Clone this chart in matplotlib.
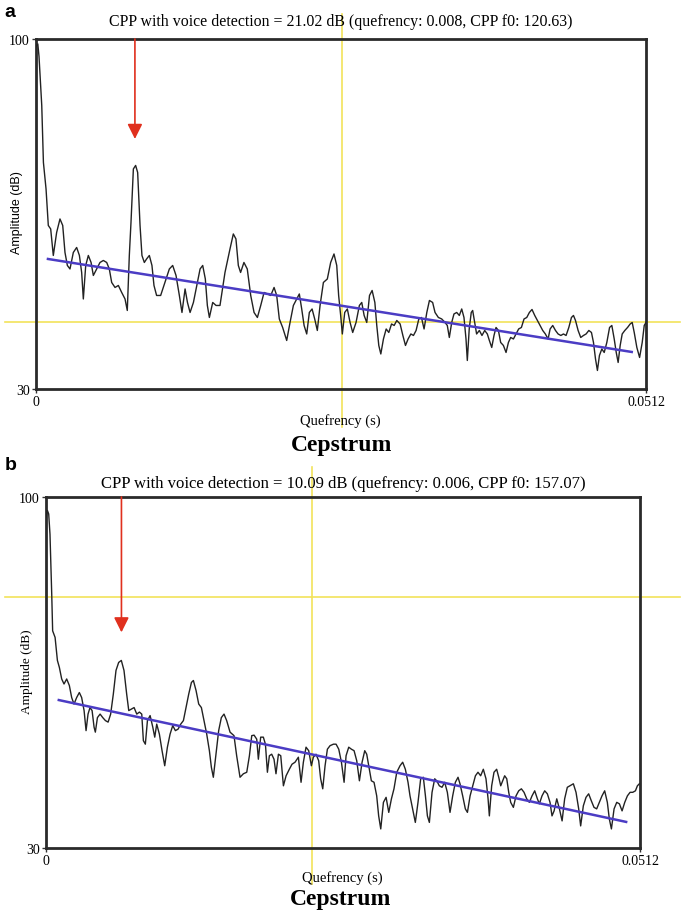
import numpy as np
import matplotlib
matplotlib.use('Agg')
import matplotlib.pyplot as plt

plt.rcParams['font.family'] = ['Liberation Serif', 'DejaVu Serif']

# Panel a: cepstrum (quefrency in ms, amplitude in dB)
quef_a_ms = [0.0, 0.15, 0.25, 0.48, 0.62, 0.84, 1.03, 1.23, 1.45, 1.73, 2.01, 2.24, 2.43, 2.63,
             2.85, 3.13, 3.41, 3.64, 3.83, 3.97, 4.17, 4.39, 4.62, 4.81, 5.09, 5.37, 5.65, 5.93,
             6.15, 6.35, 6.63, 6.91, 7.19, 7.47, 7.66, 7.83, 7.97, 8.17, 8.36, 8.53, 8.73, 8.89,
             9.09, 9.28, 9.51, 9.73, 9.90, 10.12, 10.46, 10.82, 11.19, 11.47, 11.75, 12.03, 12.25,
             12.51, 12.71, 12.93, 13.21, 13.49, 13.77, 13.99, 14.21, 14.38, 14.55, 14.83, 15.11,
             15.44, 15.86, 16.28, 16.56, 16.78, 16.98, 17.17, 17.45, 17.73, 18.02, 18.30, 18.58,
             18.86, 19.14, 19.42, 19.70, 19.98, 20.20, 20.42, 20.70, 21.04, 21.32, 21.60, 21.88,
             22.10, 22.30, 22.50, 22.72, 22.94, 23.17, 23.39, 23.61, 23.84, 24.12, 24.45, 24.73,
             25.01, 25.24, 25.40, 25.57, 25.71, 25.91, 26.13, 26.36, 26.58, 26.86, 27.14, 27.34,
             27.54, 27.76, 27.99, 28.21, 28.44, 28.60, 28.77, 28.94, 29.16, 29.39, 29.61, 29.84,
             30.06, 30.28, 30.56, 30.79, 31.01, 31.23, 31.46, 31.68, 31.90, 32.13, 32.35, 32.57,
             32.80, 33.02, 33.29, 33.49, 33.77, 34.05, 34.33, 34.52, 34.69, 34.89, 35.08, 35.31,
             35.53, 35.73, 35.92, 36.09, 36.20, 36.36, 36.53, 36.65, 36.82, 36.98, 37.21, 37.43,
             37.66, 37.88, 38.05, 38.25, 38.44, 38.61, 38.81, 39.00, 39.23, 39.45, 39.65, 39.84,
             40.07, 40.29, 40.51, 40.74, 40.96, 41.19, 41.41, 41.63, 41.86, 42.08, 42.31, 42.53,
             42.75, 42.98, 43.15, 43.37, 43.60, 43.82, 44.05, 44.27, 44.49, 44.72, 44.94, 45.11,
             45.28, 45.50, 45.72, 45.95, 46.17, 46.40, 46.62, 46.79, 46.96, 47.12, 47.29, 47.49,
             47.69, 47.91, 48.14, 48.33, 48.53, 48.70, 48.86, 49.03, 49.20, 49.42, 49.65, 49.87,
             50.04, 50.21, 50.43, 50.66, 50.88, 51.05, 51.2]
amp_a_db = [98.5, 99.0, 96.5, 86.7, 75.3, 70.0, 62.7, 62.0, 56.7, 61.3, 64.0, 62.7, 57.3, 54.7,
            54.0, 57.3, 58.3, 56.7, 53.3, 48.0, 54.7, 56.7, 55.3, 52.7, 54.0, 55.3, 55.7, 55.3,
            54.0, 51.3, 50.3, 50.7, 49.3, 48.0, 45.7, 56.7, 63.3, 74.0, 74.7, 73.3, 62.7, 56.7,
            55.3, 56.0, 56.7, 54.7, 50.7, 48.7, 48.7, 51.3, 54.0, 54.7, 52.7, 48.7, 45.3,
            50.0, 47.3, 45.3, 47.3, 50.7, 54.0, 54.7, 52.0, 46.7, 44.3, 47.3, 46.7,
            46.7, 53.3, 58.0, 61.0, 60.0, 54.7, 53.3, 55.3, 54.0, 48.7, 45.3, 44.3,
            46.7, 49.3, 49.0, 48.7, 50.3, 48.7, 44.0, 42.3, 39.7, 43.3, 46.7, 48.0,
            49.0, 46.0, 42.7, 41.0, 45.3, 46.0, 44.0, 41.7, 46.7, 51.3, 52.0, 55.3,
            57.0, 54.7, 48.7, 44.7, 41.0, 45.3, 46.0, 43.3, 41.3, 43.3, 46.7, 47.3,
            44.7, 43.3, 48.7, 49.7, 47.3, 42.7, 38.7, 37.0, 40.0, 42.0, 41.3, 43.0,
            42.7, 43.7, 43.0, 40.7, 38.7, 40.0, 41.0, 40.7, 41.7, 44.0, 44.3, 42.0,
            45.3, 47.7, 47.3, 45.3, 44.3, 44.0, 43.3, 42.7, 40.3, 43.3, 45.0, 45.3,
            44.7, 46.0, 44.3, 40.0, 35.7, 42.0, 45.3, 45.7, 43.3, 41.0, 41.7, 40.7,
            41.7, 41.0, 39.7, 38.3, 40.7, 42.3, 41.7, 39.3, 38.7, 37.3, 39.3, 40.3,
            40.0, 41.0, 42.0, 42.3, 44.0, 44.3, 45.3, 45.9, 44.7, 43.7, 42.7, 41.7,
            41.0, 40.0, 42.0, 42.7, 41.7, 41.0, 40.7, 41.0, 40.7, 42.3, 44.3, 44.7,
            43.7, 41.7, 40.3, 40.7, 41.0, 41.7, 41.3, 39.3, 36.0, 33.7, 36.7, 38.0,
            37.3, 39.3, 42.3, 42.7, 40.0, 37.3, 35.3, 38.7, 41.0, 41.7, 42.3, 43.0,
            43.3, 41.3, 38.3, 36.3, 39.3, 42.7, 43.3]

# Panel b: cepstrum (quefrency in ms, amplitude in dB)
quef_b_ms = [0.0, 0.12, 0.23, 0.34, 0.49, 0.57, 0.78, 0.98, 1.15, 1.35, 1.55, 1.78, 2.01, 2.21,
             2.41, 2.64, 2.87, 3.07, 3.28, 3.45, 3.62, 3.79, 3.97, 4.14, 4.25, 4.43, 4.66, 4.89,
             5.12, 5.35, 5.57, 5.80, 6.03, 6.26, 6.49, 6.72, 6.95, 7.13, 7.36, 7.59, 7.82, 8.05,
             8.25, 8.39, 8.56, 8.74, 8.97, 9.20, 9.37, 9.54, 9.77, 10.00, 10.23, 10.46, 10.69,
             10.92, 11.15, 11.38, 11.61, 11.84, 12.07, 12.30, 12.53, 12.70, 12.93, 13.16, 13.39,
             13.62, 13.85, 14.08, 14.25, 14.42, 14.65, 14.88, 15.11, 15.34, 15.57,
             15.86, 16.20, 16.43, 16.72, 17.01, 17.30, 17.53, 17.73, 17.93, 18.16, 18.30, 18.50,
             18.73, 18.91, 19.08, 19.25, 19.45, 19.65, 19.82, 20.03, 20.23, 20.46, 20.69, 20.97,
             21.20, 21.46, 21.75, 21.98, 22.18, 22.41, 22.64, 22.87, 23.04, 23.27, 23.50, 23.67,
             23.85, 24.05, 24.25, 24.48, 24.77, 25.00, 25.23, 25.46, 25.69, 25.86, 26.09, 26.32,
             26.55, 26.78, 27.01, 27.24, 27.47, 27.64, 27.81, 28.04, 28.27, 28.50, 28.67, 28.85,
             29.08, 29.31, 29.54, 29.77, 29.99, 30.23, 30.51, 30.74, 30.97, 31.20, 31.37, 31.60,
             31.83, 32.06, 32.29, 32.52, 32.70, 32.87, 33.04, 33.27, 33.50, 33.67, 33.90, 34.13,
             34.36, 34.59, 34.82, 35.05, 35.28, 35.51, 35.68, 35.91, 36.14, 36.32, 36.55, 36.78,
             37.01, 37.23, 37.46, 37.69, 37.92, 38.10, 38.21, 38.41, 38.61, 38.84, 39.02, 39.19,
             39.36, 39.53, 39.71, 39.88, 40.05, 40.28, 40.51, 40.74, 40.97, 41.20, 41.43, 41.66,
             41.89, 42.12, 42.35, 42.52, 42.75, 42.98, 43.21, 43.44, 43.61, 43.79, 44.02, 44.25,
             44.48, 44.70, 44.93, 45.16, 45.45, 45.68, 45.91, 46.08, 46.31, 46.54, 46.77, 47.00,
             47.23, 47.46, 47.69, 47.92, 48.15, 48.38, 48.55, 48.73, 48.96, 49.19, 49.42, 49.65,
             49.88, 50.11, 50.34, 50.57, 50.80, 50.97, 51.14]
amp_b_db = [96.0, 97.3, 96.6, 92.6, 80.7, 73.3, 72.0, 67.4, 66.0, 63.7, 62.7, 63.7, 62.4, 60.0,
            58.7, 60.0, 61.0, 60.0, 57.4, 53.4, 56.7, 58.0, 57.4, 54.1, 53.1, 56.0, 56.7, 56.0,
            55.4, 55.1, 56.7, 60.7, 65.4, 67.0, 67.4, 65.4, 60.7, 57.4, 57.7, 58.0, 56.7, 57.1,
            56.7, 51.4, 50.7, 55.4, 56.4, 54.1, 52.1, 54.7, 52.7, 49.4, 46.4, 50.1, 52.7,
            54.4, 53.4, 53.7, 54.7, 55.4, 58.0, 60.7, 63.0, 63.4, 61.4, 58.7, 58.0,
            55.4, 52.7, 49.4, 46.1, 44.1, 48.7, 53.4, 56.0, 56.7, 55.4,
            53.1, 52.4, 48.4, 44.1, 44.8, 45.1, 48.4, 52.4, 52.5, 51.7, 47.7, 52.1,
            52.1, 50.7, 45.1, 48.4, 48.7, 47.7, 44.8, 48.7, 48.4, 42.4, 44.4, 45.7,
            46.7, 47.1, 48.1, 43.1, 47.1, 50.1, 49.4, 46.4, 48.1, 48.7, 47.4, 43.8,
            41.8, 46.4, 49.7, 50.4, 50.7, 50.7, 49.7, 47.1, 43.1, 48.4, 50.1, 49.7,
            49.4, 47.4, 43.4, 47.1, 49.4, 48.7, 46.4, 43.4, 43.1, 40.4, 36.4, 33.8,
            39.1, 40.1, 37.1, 39.8, 41.8, 45.1, 46.4, 47.1, 45.7, 43.1, 40.4, 37.8,
            35.1, 39.1, 43.8, 44.1, 40.4, 36.4, 35.1, 41.1, 43.8, 43.4, 42.4, 42.1,
            43.1, 41.1, 37.1, 40.4, 43.1, 44.1, 42.8, 40.4, 37.8, 37.1, 40.4, 42.4,
            44.4, 45.1, 44.4, 45.7, 43.8, 39.8, 36.4, 42.4, 45.1, 45.7, 44.1, 42.4,
            43.4, 44.4, 43.8, 41.1, 39.1, 38.1, 40.4, 41.4, 41.8, 41.1, 39.8, 39.1,
            40.4, 41.4, 39.8, 38.8, 40.4, 41.4, 40.8, 39.1, 36.4, 37.4, 39.8, 37.8,
            35.4, 39.8, 42.1, 42.4, 42.8, 41.1, 37.8, 34.4, 38.4, 40.1, 40.8, 39.4,
            38.1, 37.8, 39.1, 40.4, 41.4, 39.1, 35.8, 33.8, 37.8, 39.1, 38.8, 37.4,
            39.1, 40.4, 41.1, 41.1, 41.4, 42.4, 42.8]

# Regression (trend) lines
trend_a_q = [0.0010, 0.0500]
trend_a_db = [56.0, 37.4]
trend_b_q = [0.0011, 0.0500]
trend_b_db = [59.5, 35.2]

# Cursor (yellow) positions and CPP peak arrows
cursor_a = (0.02568, 43.4)
cursor_b = (0.02293, 80.0)
peak_a = (0.0083, 80.0)
peak_b = (0.0065, 73.0)

titles = ['CPP with voice detection = 21.02 dB (quefrency: 0.008, CPP f0: 120.63)',
          'CPP with voice detection = 10.09 dB (quefrency: 0.006, CPP f0: 157.07)']

fig = plt.figure(figsize=(6.85, 9.12), dpi=100)
ax_a = fig.add_axes([0.0526, 0.5724, 0.8905, 0.3838])
ax_b = fig.add_axes([0.0672, 0.0691, 0.8672, 0.3849])

panels = [
    (ax_a, quef_a_ms, amp_a_db, trend_a_q, trend_a_db, cursor_a, peak_a,
     (-0.109, 1.071), (-0.051, 1.056)),
    (ax_b, quef_b_ms, amp_b_db, trend_b_q, trend_b_db, cursor_b, peak_b,
     (-0.103, 1.085), (-0.069, 1.067)),
]

yellow = '#f2e35a'
for ax, q_ms, amp, tq, tdb, cur, peak, vspan, hspan in panels:
    q = np.array(q_ms) / 1000.0
    ax.plot(q, amp, color='#222222', lw=1.0, zorder=3)
    ax.plot(tq, tdb, color='#4b3cc4', lw=1.8, zorder=4)
    ax.axvline(cur[0], ymin=vspan[0], ymax=vspan[1], color=yellow, lw=1.2,
               clip_on=False, zorder=2)
    ax.axhline(cur[1], xmin=hspan[0], xmax=hspan[1], color=yellow, lw=1.2,
               clip_on=False, zorder=2)
    ax.annotate('', xy=peak, xytext=(peak[0], 100),
                arrowprops=dict(arrowstyle='-|>,head_length=0.9,head_width=0.45',
                                color='#e0301e', lw=1.2, mutation_scale=10,
                                shrinkA=0, shrinkB=0), zorder=5)
    ax.set_xlim(0, 0.0512)
    ax.set_ylim(30, 100)
    ax.set_xticks([0, 0.0512])
    ax.set_xticklabels(['0', '0.0512'])
    ax.set_yticks([30, 100])
    ax.set_yticklabels(['30', '100'])
    ax.tick_params(length=3, width=1, labelsize=10, pad=1.5, color='#333333')
    for s in ax.spines.values():
        s.set_linewidth(2.0)
        s.set_color('#2a2a2a')

# text
fig.text(0.007, 0.986, 'a', fontsize=14, fontweight='bold', family='Liberation Sans', va='center')
fig.text(0.007, 0.490, 'b', fontsize=14, fontweight='bold', family='Liberation Sans', va='center')
fig.text(0.497, 0.9759, titles[0], fontsize=11.4, ha='center', va='center')
fig.text(0.501, 0.4693, titles[1], fontsize=12, ha='center', va='center')
fig.text(0.0248, 0.7664, 'Amplitude (dB)', fontsize=9, rotation=90, ha='center', va='center',
         family='Liberation Sans')
fig.text(0.0394, 0.263, 'Amplitude (dB)', fontsize=9.5, rotation=90, ha='center', va='center')
fig.text(0.497, 0.5384, 'Quefrency (s)', fontsize=10.5, ha='center', va='center')
fig.text(0.500, 0.0373, 'Quefrency (s)', fontsize=10.5, ha='center', va='center')
fig.text(0.498, 0.511, 'Cepstrum', fontsize=17, fontweight='bold', ha='center', va='center')
fig.text(0.497, 0.0132, 'Cepstrum', fontsize=17, fontweight='bold', ha='center', va='center')

fig.savefig('out.png', dpi=100)
